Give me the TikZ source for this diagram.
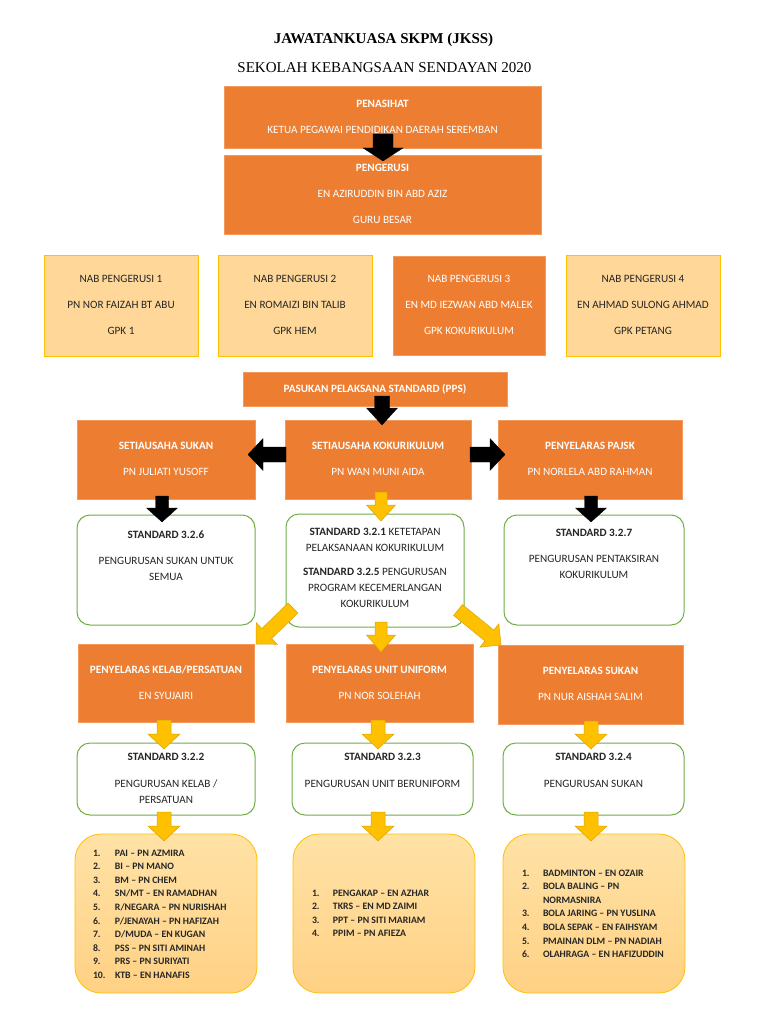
\documentclass[tikz,border=0pt]{standalone}
\usepackage{fontspec}
\setmainfont{Carlito}
\newfontfamily\titlefont{Liberation Serif}
\usetikzlibrary{calc}
\definecolor{org}{HTML}{ED7D31}
\definecolor{orgedge}{HTML}{F29A5E}
\definecolor{lightor}{HTML}{FFD899}
\definecolor{listtop}{HTML}{FFE2A6}
\definecolor{listbot}{HTML}{FFD184}
\definecolor{gold}{HTML}{FFC000}
\definecolor{golddark}{HTML}{D9A406}
\definecolor{grn}{HTML}{70AD47}
\definecolor{txt}{HTML}{262626}
\newcommand\bxfont{\fontsize{11.2}{16}\selectfont}
\newcommand\lsfont{\fontsize{9.8}{13.6}\selectfont\bfseries}
\newcommand{\barr}[6]{%
  \path let \p1=#2, \p2=#3 in
    \pgfextra{%
      \pgfmathsetmacro\baAngT{atan2(\y2-\y1,\x2-\x1)}%
      \pgfmathsetmacro\baLenT{veclen(\x2-\x1,\y2-\y1)}%
      \xdef\baAng{\baAngT}\xdef\baLen{\baLenT}%
      \xdef\baX{\x1}\xdef\baY{\y1}};
  \path[#1, shift={(\baX,\baY)}, rotate=\baAng]
    (0pt,-#4pt) -- (\baLen pt-#6pt,-#4pt) -- (\baLen pt-#6pt,-#5pt) -- (\baLen pt,0pt)
    -- (\baLen pt-#6pt,#5pt) -- (\baLen pt-#6pt,#4pt) -- (0pt,#4pt) -- cycle;
}
\tikzset{
  bas/.style={inner sep=0pt, outer sep=0pt},
  obox/.style={bas, fill=org, draw=orgedge, line width=0.6pt, text=white, align=center, font=\bxfont},
  lbox/.style={bas, fill=lightor, draw=gold, line width=0.8pt, text=txt, align=center, font=\bxfont},
  gbox/.style={bas, fill=white, draw=grn, line width=1pt, rounded corners=13pt},
  listbox/.style={bas, top color=listtop, bottom color=listbot, draw=gold, line width=0.8pt, rounded corners=26pt},
  stxt/.style={bas, anchor=north, align=center, text=txt, font=\bxfont},
  ltxt/.style={bas, anchor=north west, text=txt, font=\lsfont},
  blk/.style={fill=black, draw=black, line width=0.3pt},
  ylw/.style={fill=gold, draw=golddark, line width=0.5pt},
  ttl/.style={bas, anchor=base, text=black},
}
\begin{document}
\begin{tikzpicture}[x=1pt, y=-1pt]
\useasboundingbox[fill=white] (0,0) rectangle (768,1024);

% titles
\node[ttl, font=\titlefont\fontsize{15}{18}\selectfont\bfseries] (t1) at (383.5,44) {JAWATANKUASA SKPM (JKSS)};
\node[ttl, font=\titlefont\fontsize{15}{18}\selectfont] (t2) at (384.5,72.5) {SEKOLAH KEBANGSAAN SENDAYAN 2020};

% top boxes
\node[obox, minimum width=317pt, minimum height=62pt] (pen) at (382.5,117)
  {\strut\textbf{PENASIHAT}\\[10pt]\strut KETUA PEGAWAI PENDIDIKAN DAERAH SEREMBAN};
\node[obox, minimum width=317pt, minimum height=79pt] (peng) at (382.5,194.5)
  {\strut\textbf{PENGERUSI}\\[10pt]\strut EN AZIRUDDIN BIN ABD AZIZ\\[10pt]\strut GURU BESAR};

% nab pengerusi
\node[lbox, minimum width=154pt, minimum height=101pt] (nab1) at (121,305.5)
  {\strut NAB PENGERUSI 1\\[10pt]\strut PN NOR FAIZAH BT ABU\\[10pt]\strut GPK 1};
\node[lbox, minimum width=154pt, minimum height=101pt] (nab2) at (295,305.5)
  {\strut NAB PENGERUSI 2\\[10pt]\strut EN ROMAIZI BIN TALIB\\[10pt]\strut GPK HEM};
\node[obox, minimum width=152pt, minimum height=99pt] (nab3) at (469,305.5)
  {\strut NAB PENGERUSI 3\\[10pt]\strut EN MD IEZWAN ABD MALEK\\[10pt]\strut GPK KOKURIKULUM};
\node[lbox, minimum width=154pt, minimum height=101pt] (nab4) at (643,305.5)
  {\strut NAB PENGERUSI 4\\[10pt]\strut EN AHMAD SULONG AHMAD\\[10pt]\strut GPK PETANG};

% PPS
\node[obox, minimum width=264pt, minimum height=34pt] (pps) at (375,389)
  {\strut\textbf{PASUKAN PELAKSANA STANDARD (PPS)}};

% setiausaha row
\node[obox, minimum width=178pt, minimum height=79pt] (ssukan) at (166,459.5)
  {\strut\textbf{SETIAUSAHA SUKAN}\\[10pt]\strut PN JULIATI YUSOFF};
\node[obox, minimum width=186pt, minimum height=79pt] (kok) at (378,459.5)
  {\strut\textbf{SETIAUSAHA KOKURIKULUM}\\[10pt]\strut PN WAN MUNI AIDA};
\node[obox, minimum width=184pt, minimum height=79pt] (pajsk) at (590,459.5)
  {\strut\textbf{PENYELARAS PAJSK}\\[10pt]\strut PN NORLELA ABD RAHMAN};

% standard row 1
\node[gbox, minimum width=178pt, minimum height=110pt] (s326) at (166,570) {};
\node[gbox, minimum width=178pt, minimum height=113pt] (s321) at (375,570.5) {};
\node[gbox, minimum width=180pt, minimum height=110pt] (s327) at (594,570) {};
\node[stxt] (s326t) at ($(s326.north)+(0,12.4)$)
  {\strut\textbf{STANDARD 3.2.6}\\[10pt]PENGURUSAN SUKAN UNTUK\\SEMUA};
\node[stxt] (s321t) at ($(s321.north)+(0,10.4)$)
  {\strut\textbf{STANDARD 3.2.1} KETETAPAN\\PELAKSANAAN KOKURIKULUM\\[8pt]\textbf{STANDARD 3.2.5} PENGURUSAN\\PROGRAM KECEMERLANGAN\\KOKURIKULUM};
\node[stxt] (s327t) at ($(s327.north)+(0,10.4)$)
  {\strut\textbf{STANDARD 3.2.7}\\[10pt]PENGURUSAN PENTAKSIRAN\\KOKURIKULUM};

% penyelaras row
\node[obox, minimum width=176pt, minimum height=78pt] (kelab) at (166,683)
  {\strut\textbf{PENYELARAS KELAB/PERSATUAN}\\[10pt]\strut EN SYUJAIRI};
\node[obox, minimum width=187pt, minimum height=78pt] (uniform) at (379.5,683)
  {\strut\textbf{PENYELARAS UNIT UNIFORM}\\[10pt]\strut PN NOR SOLEHAH};
\node[obox, minimum width=185pt, minimum height=79pt] (psukan) at (590.5,684.5)
  {\strut\textbf{PENYELARAS SUKAN}\\[10pt]\strut PN NUR AISHAH SALIM};

% standard row 2
\node[gbox, minimum width=178pt, minimum height=72pt] (s322) at (166,779) {};
\node[gbox, minimum width=181pt, minimum height=72pt] (s323) at (382.5,779) {};
\node[gbox, minimum width=181pt, minimum height=72pt] (s324) at (593.5,779) {};
\node[stxt] (s322t) at ($(s322.north)+(0,6.4)$)
  {\strut\textbf{STANDARD 3.2.2}\\[10.5pt]PENGURUSAN KELAB /\\PERSATUAN};
\node[stxt] (s323t) at ($(s323.north)+(0,6.4)$)
  {\strut\textbf{STANDARD 3.2.3}\\[10.5pt]PENGURUSAN UNIT BERUNIFORM};
\node[stxt] (s324t) at ($(s324.north)+(0,6.4)$)
  {\strut\textbf{STANDARD 3.2.4}\\[10.5pt]PENGURUSAN SUKAN};

% list boxes
\node[listbox, minimum width=182pt, minimum height=159pt] (l1) at (166,913.5) {};
\node[listbox, minimum width=182pt, minimum height=159pt] (l2) at (384,913.5) {};
\node[listbox, minimum width=182pt, minimum height=159pt] (l3) at (594,913.5) {};
\node[ltxt] (l1t) at ($(l1.north west)+(18,12.6)$) {%
  \begin{tabular}{@{}p{22pt}@{}l@{}}
  1. & PAI – PN AZMIRA\\
  2. & BI – PN MANO\\
  3. & BM – PN CHEM\\
  4. & SN/MT – EN RAMADHAN\\
  5. & R/NEGARA – PN NURISHAH\\
  6. & P/JENAYAH – PN HAFIZAH\\
  7. & D/MUDA – EN KUGAN\\
  8. & PSS – PN SITI AMINAH\\
  9. & PRS – PN SURIYATI\\
  10. & KTB – EN HANAFIS
  \end{tabular}};
\node[ltxt] (l2t) at ($(l2.north west)+(19,52.6)$) {%
  \begin{tabular}{@{}p{21pt}@{}l@{}}
  1. & PENGAKAP – EN AZHAR\\
  2. & TKRS – EN MD ZAIMI\\
  3. & PPT – PN SITI MARIAM\\
  4. & PPIM – PN AFIEZA
  \end{tabular}};
\node[ltxt] (l3t) at ($(l3.north west)+(19,32.6)$) {%
  \begin{tabular}{@{}p{21pt}@{}l@{}}
  1. & BADMINTON – EN OZAIR\\
  2. & BOLA BALING – PN\\
     & NORMASNIRA\\
  3. & BOLA JARING – PN YUSLINA\\
  4. & BOLA SEPAK – EN FAIHSYAM\\
  5. & PMAINAN DLM – PN NADIAH\\
  6. & OLAHRAGA – EN HAFIZUDDIN
  \end{tabular}};

% black arrows
\barr{blk}{($(pen.south)+(0.5,-14)$)}{($(peng.north)+(0.5,6)$)}{10}{20}{13}
\barr{blk}{($(pps.south)+(7,-10)$)}{($(kok.north)+(4,5)$)}{7.5}{15.5}{17}
\barr{blk}{($(kok.west)+(1,-5)$)}{($(ssukan.east)+(-7,-5)$)}{7.5}{16}{15}
\barr{blk}{($(kok.east)+(-1,-5)$)}{($(pajsk.west)+(7,-5)$)}{7.5}{16}{15}
\barr{blk}{($(ssukan.south)+(-4,-3)$)}{($(s326.north)+(-4,7)$)}{6.5}{15.5}{14}
\barr{blk}{($(pajsk.south)+(1,-3)$)}{($(s327.north)+(-3,7)$)}{6.5}{15.5}{14}

% yellow arrows
\barr{ylw}{($(kok.south)+(3,-7)$)}{($(s321.north)+(6,7)$)}{6}{14.5}{16}
\barr{ylw}{($(s321.south west)+(7,-19)$)}{($(kelab.north east)+(2,0)$)}{7}{15}{15}
\barr{ylw}{($(s321.south)+(6,-5)$)}{($(uniform.north)+(1.5,8)$)}{6}{14.5}{17}
\barr{ylw}{($(s321.south east)+(-6,-17)$)}{($(psukan.north west)+(3,0)$)}{7}{15}{15}
\barr{ylw}{($(kelab.south)+(-2,-2)$)}{($(s322.north)+(-2,6)$)}{7}{16}{15}
\barr{ylw}{($(uniform.south)+(-1.5,-2)$)}{($(s323.north)+(-4.5,6)$)}{7}{16}{15}
\barr{ylw}{($(psukan.south)+(0.5,-3)$)}{($(s324.north)+(-2.5,6)$)}{7}{16}{15}
\barr{ylw}{($(s322.south)+(-2,-3)$)}{($(l1.north)+(-2,7)$)}{7}{16}{15}
\barr{ylw}{($(s323.south)+(-4.5,-3)$)}{($(l2.north)+(-6,7)$)}{7}{16}{15}
\barr{ylw}{($(s324.south)+(-2.5,-3)$)}{($(l3.north)+(-3,7)$)}{7}{16}{15}
\end{tikzpicture}
\end{document}
